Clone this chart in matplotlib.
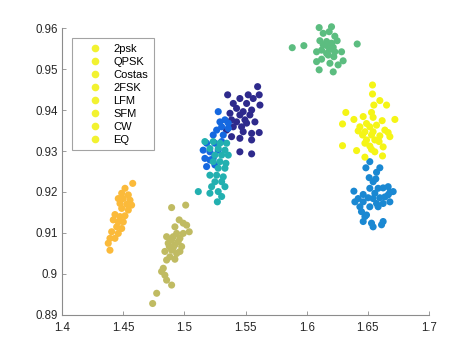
import matplotlib
matplotlib.use("Agg")
import matplotlib.pyplot as plt
from matplotlib.lines import Line2D

labels = ["2psk", "QPSK", "Costas", "2FSK", "LFM", "SFM", "CW", "EQ"]

# navy cluster
x_navy = [1.5599, 1.5354, 1.5522, 1.5612, 1.5454, 1.5563, 1.5400, 1.5509, 1.5618, 1.5427,
          1.5481, 1.5550, 1.5373, 1.5454, 1.5536, 1.5386, 1.5495, 1.5577, 1.5400, 1.5468,
          1.5345, 1.5481, 1.5550, 1.5612, 1.5386, 1.5454, 1.5550, 1.5454, 1.5550, 1.5509, 1.5427]
y_navy = [0.9457, 0.9437, 0.9437, 0.9437, 0.9428, 0.9428, 0.9416, 0.9416, 0.9412, 0.9404,
          0.9396, 0.9400, 0.9392, 0.9388, 0.9388, 0.9376, 0.9376, 0.9371, 0.9359, 0.9359,
          0.9351, 0.9347, 0.9343, 0.9345, 0.9335, 0.9331, 0.9327, 0.9298, 0.9293, 0.9368, 0.9371]

# bright blue cluster
x_blue = [1.5277, 1.5332, 1.5305, 1.5264, 1.5359, 1.5236, 1.5318, 1.5182, 1.5250, 1.5305,
          1.5154, 1.5209, 1.5277, 1.5168, 1.5236, 1.5182, 1.5250, 1.5359, 1.5291, 1.5209]
y_blue = [0.9396, 0.9376, 0.9359, 0.9351, 0.9355, 0.9339, 0.9339, 0.9319, 0.9319, 0.9323,
          0.9302, 0.9298, 0.9302, 0.9282, 0.9282, 0.9262, 0.9266, 0.9368, 0.9371, 0.9278]

# medium blue cluster
x_mblue = [1.6516, 1.6484, 1.6598, 1.6571, 1.6511, 1.6565, 1.6543, 1.6386, 1.6516, 1.6625,
           1.6666, 1.6462, 1.6557, 1.6680, 1.6707, 1.6421, 1.6502, 1.6543, 1.6598, 1.6639,
           1.6394, 1.6462, 1.6571, 1.6625, 1.6680, 1.6435, 1.6516, 1.6584, 1.6448, 1.6489,
           1.6462, 1.6476, 1.6530, 1.6543, 1.6612, 1.6625, 1.6666, 1.6584]
y_mblue = [0.9274, 0.9259, 0.9259, 0.9248, 0.9235, 0.9232, 0.9225, 0.9202, 0.9209, 0.9210,
           0.9213, 0.9194, 0.9197, 0.9199, 0.9201, 0.9184, 0.9186, 0.9184, 0.9186, 0.9188,
           0.9176, 0.9176, 0.9172, 0.9172, 0.9176, 0.9164, 0.9164, 0.9164, 0.9152, 0.9144,
           0.9128, 0.9140, 0.9124, 0.9115, 0.9120, 0.9128, 0.9193, 0.9209]

# teal cluster
x_teal = [1.5168, 1.5236, 1.5291, 1.5346, 1.5209, 1.5277, 1.5332, 1.5250, 1.5305, 1.5359,
          1.5236, 1.5291, 1.5340, 1.5277, 1.5332, 1.5209, 1.5264, 1.5318, 1.5250, 1.5305,
          1.5332, 1.5114, 1.5223, 1.5277, 1.5305, 1.5270, 1.5209]
y_teal = [0.9323, 0.9323, 0.9319, 0.9319, 0.9306, 0.9306, 0.9302, 0.9290, 0.9290, 0.9290,
          0.9274, 0.9274, 0.9270, 0.9258, 0.9258, 0.9241, 0.9241, 0.9237, 0.9225, 0.9225,
          0.9213, 0.9201, 0.9213, 0.9201, 0.9189, 0.9176, 0.9197]

# green cluster
x_green = [1.5882, 1.5977, 1.6102, 1.6203, 1.6135, 1.6184, 1.6230, 1.6108, 1.6163, 1.6203,
           1.6249, 1.6081, 1.6122, 1.6190, 1.6230, 1.6285, 1.6413, 1.6176, 1.6222, 1.6298,
           1.6081, 1.6122, 1.6190, 1.6257, 1.6217, 1.6102, 1.6163, 1.6135, 1.6176, 1.6217]
y_green = [0.9552, 0.9557, 0.9601, 0.9603, 0.9587, 0.9591, 0.9580, 0.9569, 0.9567, 0.9563,
           0.9569, 0.9542, 0.9546, 0.9548, 0.9542, 0.9542, 0.9561, 0.9534, 0.9530, 0.9520,
           0.9518, 0.9524, 0.9514, 0.9510, 0.9493, 0.9498, 0.9538, 0.9559, 0.9554, 0.9553]

# olive cluster
x_olive = [1.4896, 1.5011, 1.4958, 1.4991, 1.4923, 1.5019, 1.5040, 1.4937, 1.4991, 1.4855,
           1.4896, 1.4964, 1.4868, 1.4923, 1.4978, 1.4841, 1.4896, 1.4937, 1.4882, 1.4923,
           1.4855, 1.4828, 1.4814, 1.4841, 1.4855, 1.4896, 1.4774, 1.4741,
           1.4909, 1.4950, 1.4909, 1.4964, 1.4877]
y_olive = [0.9162, 0.9168, 0.9132, 0.9124, 0.9115, 0.9119, 0.9103, 0.9099, 0.9099, 0.9091,
           0.9083, 0.9087, 0.9075, 0.9071, 0.9067, 0.9055, 0.9058, 0.9050, 0.9042, 0.9036,
           0.9034, 0.9014, 0.9006, 0.8997, 0.8985, 0.8973, 0.8953, 0.8928,
           0.9091, 0.9079, 0.9063, 0.9055, 0.9067]

# orange cluster
x_orange = [1.4578, 1.4515, 1.4488, 1.4542, 1.4460, 1.4501, 1.4556, 1.4474, 1.4529, 1.4569,
            1.4488, 1.4542, 1.4433, 1.4474, 1.4515, 1.4419, 1.4460, 1.4501, 1.4447, 1.4488,
            1.4406, 1.4460, 1.4392, 1.4433, 1.4378, 1.4392]
y_orange = [0.9221, 0.9209, 0.9197, 0.9193, 0.9184, 0.9184, 0.9180, 0.9172, 0.9170, 0.9168,
            0.9160, 0.9156, 0.9145, 0.9140, 0.9142, 0.9132, 0.9127, 0.9127, 0.9115, 0.9111,
            0.9103, 0.9099, 0.9087, 0.9087, 0.9075, 0.9058]

# yellow cluster
x_yellow = [1.6538, 1.6538, 1.6598, 1.6549, 1.6653, 1.6320, 1.6530, 1.6462, 1.6386, 1.6543,
            1.6721, 1.6617, 1.6293, 1.6489, 1.6435, 1.6516, 1.6571, 1.6421, 1.6476, 1.6543,
            1.6639, 1.6666, 1.6457, 1.6530, 1.6598, 1.6680, 1.6489, 1.6557, 1.6293, 1.6476,
            1.6592, 1.6516, 1.6408, 1.6530, 1.6625, 1.6557, 1.6620, 1.6476]
y_yellow = [0.9461, 0.9439, 0.9423, 0.9412, 0.9412, 0.9394, 0.9394, 0.9384, 0.9377, 0.9382,
            0.9377, 0.9374, 0.9366, 0.9367, 0.9359, 0.9359, 0.9363, 0.9349, 0.9347, 0.9347,
            0.9351, 0.9345, 0.9339, 0.9339, 0.9337, 0.9335, 0.9327, 0.9327, 0.9313, 0.9319,
            0.9323, 0.9312, 0.9301, 0.9304, 0.9310, 0.9298, 0.9288, 0.9285]

xticks = [1.4, 1.45, 1.5, 1.55, 1.6, 1.65, 1.7]
xticklabels = ["1.4", "1.45", "1.5", "1.55", "1.6", "1.65", "1.7"]
yticks = [0.89, 0.9, 0.91, 0.92, 0.93, 0.94, 0.95, 0.96]
yticklabels = ["0.89", "0.9", "0.91", "0.92", "0.93", "0.94", "0.95", "0.96"]

plt.rcParams['font.family'] = ['Liberation Sans', 'DejaVu Sans']

fig = plt.figure(figsize=(4.74, 3.55), dpi=100)
ax = fig.add_axes([0.1308, 0.1127, 0.7743, 0.8084])

series = [
    (x_navy, y_navy, "#2e2a8c"),
    (x_blue, y_blue, "#1568e0"),
    (x_mblue, y_mblue, "#1a88d2"),
    (x_teal, y_teal, "#22b0b0"),
    (x_green, y_green, "#5cbd80"),
    (x_olive, y_olive, "#c0bb62"),
    (x_orange, y_orange, "#fbba3a"),
    (x_yellow, y_yellow, "#f5f516"),
]
for xs, ys, c in series:
    ax.scatter(xs, ys, s=26, c=c, edgecolors='none', zorder=2, clip_on=False)

ax.set_xlim(1.4, 1.7)
ax.set_ylim(0.89, 0.96)
ax.set_xticks(xticks)
ax.set_xticklabels(xticklabels)
ax.set_yticks(yticks)
ax.set_yticklabels(yticklabels)
for s in ['top', 'right']:
    ax.spines[s].set_visible(False)
for s in ['left', 'bottom']:
    ax.spines[s].set_color('#8c8c8c')
    ax.spines[s].set_linewidth(0.8)
ax.tick_params(direction='in', length=3, width=0.6, color='#8c8c8c',
               labelsize=8.3, labelcolor='#262626')
ax.tick_params(axis='x', pad=5)
ax.tick_params(axis='y', pad=3)

handles = [Line2D([], [], marker='o', linestyle='none', markersize=5.5,
                  markerfacecolor='#f2f230', markeredgecolor='none') for _ in labels]
leg = ax.legend(handles, labels, loc='upper left', bbox_to_anchor=(0.027, 0.965),
                borderaxespad=0, fontsize=8, frameon=True, fancybox=False,
                handletextpad=0.05, labelspacing=0.27, borderpad=0.5,
                handlelength=3.2)
leg.get_frame().set_edgecolor('#8c8c8c')
leg.get_frame().set_linewidth(0.8)

fig.savefig("out.png", dpi=100)
